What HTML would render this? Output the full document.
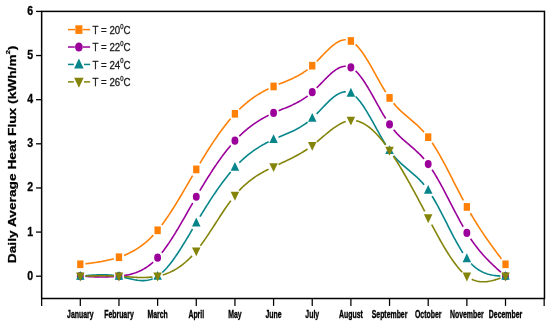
<!DOCTYPE html>
<html><head><meta charset="utf-8"><title>Daily Average Heat Flux</title>
<style>
html,body{margin:0;padding:0;background:#fff;}
svg{display:block;}
text{font-family:"Liberation Sans",Arial,sans-serif;fill:#000;}
.tk{font-size:12.9px;font-weight:bold;stroke:#000;stroke-width:0.3px;}
.xl{font-size:10.4px;font-weight:bold;stroke:#000;stroke-width:0.35px;}
.yt{font-size:13.75px;font-weight:bold;stroke:#000;stroke-width:0.3px;}
.lg{font-size:11.7px;fill:#1a1a1a;stroke:#1a1a1a;stroke-width:0.3px;}
</style></head><body>
<svg width="550" height="324" viewBox="0 0 550 324">
<rect width="550" height="324" fill="#fff"/>
<path d="M85.44 263.73 L86.60 263.60 L87.76 263.46 L88.93 263.33 L90.09 263.19 L91.25 263.04 L92.41 262.89 L93.58 262.74 L94.74 262.58 L95.90 262.42 L97.07 262.25 L98.23 262.07 L99.39 261.88 L100.55 261.69 L101.72 261.49 L102.88 261.28 L104.04 261.06 L105.20 260.83 L106.37 260.59 L107.53 260.34 L108.69 260.08 L109.85 259.81 L111.02 259.53 L112.18 259.23 L113.34 258.92 L113.92 258.76 M124.00 255.39 L125.16 254.91 L126.32 254.42 L127.49 253.90 L128.65 253.37 L129.81 252.81 L130.97 252.22 L132.14 251.61 L133.30 250.98 L134.46 250.32 L135.62 249.63 L136.79 248.91 L137.95 248.17 L139.11 247.39 L140.27 246.58 L141.44 245.74 L142.60 244.87 L143.76 243.97 L144.92 243.03 L146.09 242.06 L147.25 241.05 L148.41 240.00 L149.57 238.91 L150.74 237.79 L151.90 236.63 L153.06 235.42 L153.35 235.12 M161.78 225.04 L162.94 223.48 L164.11 221.88 L165.27 220.25 L166.43 218.58 L167.59 216.88 L168.76 215.15 L169.92 213.39 L171.08 211.61 L172.24 209.79 L173.41 207.96 L174.57 206.10 L175.73 204.22 L176.89 202.32 L178.06 200.41 L179.22 198.48 L180.38 196.53 L181.54 194.57 L182.71 192.61 L183.87 190.63 L185.03 188.64 L186.19 186.65 L187.36 184.66 L188.52 182.66 L189.68 180.66 L190.84 178.67 L192.01 176.67 L192.59 175.68 M199.95 163.23 L201.11 161.31 L202.28 159.39 L203.44 157.50 L204.60 155.61 L205.76 153.74 L206.93 151.89 L208.09 150.05 L209.25 148.23 L210.41 146.43 L211.58 144.65 L212.74 142.88 L213.90 141.14 L215.06 139.41 L216.23 137.71 L217.39 136.03 L218.55 134.37 L219.71 132.74 L220.88 131.13 L222.04 129.54 L223.20 127.98 L224.37 126.44 L225.53 124.93 L226.69 123.45 L227.85 122.00 L229.02 120.57 L230.18 119.18 L230.66 118.61 M239.28 109.33 L240.45 108.22 L241.61 107.13 L242.77 106.07 L243.93 105.04 L245.10 104.04 L246.26 103.06 L247.42 102.11 L248.59 101.19 L249.75 100.29 L250.91 99.42 L252.07 98.57 L253.24 97.75 L254.40 96.95 L255.56 96.17 L256.72 95.41 L257.89 94.67 L259.05 93.95 L260.21 93.26 L261.37 92.58 L262.54 91.92 L263.70 91.28 L264.86 90.65 L266.02 90.04 L267.19 89.45 L268.35 88.87 L268.64 88.73 M278.62 84.31 L279.78 83.84 L280.94 83.36 L282.11 82.89 L283.27 82.42 L284.43 81.95 L285.59 81.47 L286.76 80.99 L287.92 80.50 L289.08 80.00 L290.24 79.49 L291.41 78.97 L292.57 78.43 L293.73 77.88 L294.89 77.31 L296.06 76.72 L297.22 76.12 L298.38 75.49 L299.54 74.84 L300.71 74.16 L301.87 73.45 L303.03 72.72 L304.19 71.95 L305.36 71.16 L306.52 70.33 L307.58 69.53 M316.69 61.44 L317.85 60.26 L319.02 59.07 L320.18 57.86 L321.34 56.65 L322.50 55.44 L323.67 54.24 L324.83 53.04 L325.99 51.86 L327.15 50.71 L328.32 49.58 L329.48 48.49 L330.64 47.43 L331.80 46.42 L332.97 45.45 L334.13 44.55 L335.29 43.70 L336.45 42.92 L337.62 42.21 L338.78 41.58 L339.94 41.04 L341.11 40.58 L342.27 40.21 L343.43 39.95 L344.59 39.79 L345.76 39.74 M355.64 44.44 L356.80 45.59 L357.96 46.85 L359.12 48.21 L360.29 49.66 L361.45 51.20 L362.61 52.83 L363.78 54.53 L364.94 56.30 L366.10 58.12 L367.26 60.01 L368.43 61.94 L369.59 63.92 L370.75 65.93 L371.91 67.97 L373.08 70.03 L374.24 72.11 L375.40 74.20 L376.56 76.29 L377.73 78.38 L378.89 80.46 L380.05 82.52 L381.21 84.56 L382.38 86.57 L383.54 88.54 L384.70 90.47 L385.67 92.05 M393.61 103.24 L394.78 104.61 L395.94 105.93 L397.10 107.20 L398.26 108.42 L399.43 109.59 L400.59 110.73 L401.75 111.83 L402.91 112.90 L404.08 113.94 L405.24 114.97 L406.40 115.97 L407.56 116.96 L408.73 117.95 L409.89 118.92 L411.05 119.90 L412.21 120.89 L413.38 121.88 L414.54 122.89 L415.70 123.91 L416.87 124.95 L418.03 126.03 L419.19 127.13 L420.35 128.26 L421.52 129.44 L422.68 130.66 L423.84 131.93 L424.03 132.15 M432.17 142.77 L433.33 144.54 L434.50 146.36 L435.66 148.24 L436.82 150.16 L437.98 152.13 L439.15 154.14 L440.31 156.20 L441.47 158.29 L442.64 160.41 L443.80 162.56 L444.96 164.74 L446.12 166.95 L447.29 169.17 L448.45 171.42 L449.61 173.68 L450.77 175.95 L451.94 178.23 L453.10 180.52 L454.26 182.80 L455.42 185.09 L456.59 187.38 L457.75 189.65 L458.91 191.92 L460.07 194.18 L461.24 196.42 L462.40 198.64 L463.37 200.47 M470.44 213.24 L471.60 215.23 L472.76 217.18 L473.93 219.11 L475.09 221.01 L476.25 222.89 L477.41 224.74 L478.58 226.56 L479.74 228.36 L480.90 230.14 L482.07 231.89 L483.23 233.63 L484.39 235.34 L485.55 237.04 L486.72 238.72 L487.88 240.38 L489.04 242.03 L490.20 243.66 L491.37 245.28 L492.53 246.88 L493.69 248.48 L494.85 250.06 L496.02 251.64 L497.18 253.21 L498.34 254.77 L499.50 256.32 L500.67 257.87 L501.44 258.90" fill="none" stroke="#ff8005" stroke-width="1.6"/>
<path d="M85.44 276.46 L86.60 276.51 L87.76 276.56 L88.93 276.61 L90.09 276.66 L91.25 276.71 L92.41 276.75 L93.58 276.79 L94.74 276.83 L95.90 276.86 L97.07 276.89 L98.23 276.91 L99.39 276.93 L100.55 276.94 L101.72 276.95 L102.88 276.95 L104.04 276.95 L105.20 276.94 L106.37 276.92 L107.53 276.89 L108.69 276.86 L109.85 276.82 L111.02 276.77 L112.18 276.72 L113.34 276.65 L113.83 276.62 M124.09 275.56 L125.26 275.37 L126.42 275.16 L127.58 274.94 L128.74 274.69 L129.91 274.42 L131.07 274.13 L132.23 273.81 L133.40 273.46 L134.56 273.09 L135.72 272.69 L136.88 272.25 L138.05 271.78 L139.21 271.28 L140.37 270.74 L141.53 270.17 L142.70 269.56 L143.86 268.91 L145.02 268.21 L146.18 267.48 L147.35 266.70 L148.51 265.87 L149.67 265.00 L150.83 264.08 L152.00 263.11 L153.16 262.08 M161.88 252.67 L163.04 251.19 L164.20 249.66 L165.37 248.08 L166.53 246.46 L167.69 244.79 L168.85 243.09 L170.02 241.35 L171.18 239.57 L172.34 237.77 L173.50 235.93 L174.67 234.06 L175.83 232.16 L176.99 230.24 L178.15 228.30 L179.32 226.34 L180.48 224.36 L181.64 222.36 L182.80 220.35 L183.97 218.33 L185.13 216.30 L186.29 214.26 L187.45 212.22 L188.62 210.17 L189.78 208.12 L190.94 206.07 L192.10 204.03 L192.69 203.01 M199.85 190.64 L201.02 188.68 L202.18 186.74 L203.34 184.82 L204.50 182.91 L205.67 181.01 L206.83 179.14 L207.99 177.28 L209.16 175.45 L210.32 173.63 L211.48 171.83 L212.64 170.05 L213.81 168.30 L214.97 166.56 L216.13 164.85 L217.29 163.16 L218.46 161.49 L219.62 159.85 L220.78 158.23 L221.94 156.64 L223.11 155.07 L224.27 153.53 L225.43 152.02 L226.59 150.53 L227.76 149.07 L228.92 147.64 L230.08 146.24 L230.66 145.55 M239.28 136.22 L240.45 135.09 L241.61 133.99 L242.77 132.92 L243.93 131.88 L245.10 130.86 L246.26 129.87 L247.42 128.91 L248.59 127.97 L249.75 127.06 L250.91 126.17 L252.07 125.31 L253.24 124.47 L254.40 123.65 L255.56 122.85 L256.72 122.08 L257.89 121.33 L259.05 120.59 L260.21 119.88 L261.37 119.19 L262.54 118.51 L263.70 117.85 L264.86 117.22 L266.02 116.59 L267.19 115.99 L268.35 115.40 L268.64 115.25 M278.62 110.76 L279.78 110.28 L280.94 109.80 L282.11 109.33 L283.27 108.85 L284.43 108.38 L285.59 107.90 L286.76 107.42 L287.92 106.93 L289.08 106.43 L290.24 105.92 L291.41 105.40 L292.57 104.86 L293.73 104.31 L294.89 103.75 L296.06 103.16 L297.22 102.56 L298.38 101.93 L299.54 101.28 L300.71 100.61 L301.87 99.90 L303.03 99.17 L304.19 98.41 L305.36 97.62 L306.52 96.79 L307.58 96.00 M316.69 87.93 L317.85 86.75 L319.02 85.56 L320.18 84.35 L321.34 83.14 L322.50 81.93 L323.67 80.73 L324.83 79.53 L325.99 78.35 L327.15 77.20 L328.32 76.07 L329.48 74.97 L330.64 73.92 L331.80 72.91 L332.97 71.94 L334.13 71.03 L335.29 70.19 L336.45 69.41 L337.62 68.70 L338.78 68.07 L339.94 67.52 L341.11 67.06 L342.27 66.69 L343.43 66.43 L344.59 66.27 L345.76 66.22 M355.64 70.91 L356.80 72.07 L357.96 73.33 L359.12 74.69 L360.29 76.14 L361.45 77.68 L362.61 79.31 L363.78 81.01 L364.94 82.78 L366.10 84.60 L367.26 86.49 L368.43 88.42 L369.59 90.40 L370.75 92.41 L371.91 94.45 L373.08 96.51 L374.24 98.59 L375.40 100.68 L376.56 102.78 L377.73 104.86 L378.89 106.94 L380.05 109.00 L381.21 111.04 L382.38 113.05 L383.54 115.03 L384.70 116.96 L385.67 118.53 M393.61 129.71 L394.78 131.09 L395.94 132.40 L397.10 133.67 L398.26 134.89 L399.43 136.06 L400.59 137.20 L401.75 138.30 L402.91 139.38 L404.08 140.42 L405.24 141.45 L406.40 142.46 L407.56 143.46 L408.73 144.45 L409.89 145.44 L411.05 146.43 L412.21 147.43 L413.38 148.43 L414.54 149.46 L415.70 150.50 L416.87 151.56 L418.03 152.65 L419.19 153.78 L420.35 154.94 L421.52 156.15 L422.68 157.40 L423.84 158.70 L424.03 158.92 M432.08 169.71 L433.24 171.52 L434.40 173.39 L435.56 175.31 L436.73 177.28 L437.89 179.30 L439.05 181.35 L440.21 183.44 L441.38 185.57 L442.54 187.72 L443.70 189.90 L444.86 192.10 L446.03 194.32 L447.19 196.56 L448.35 198.80 L449.51 201.05 L450.68 203.31 L451.84 205.56 L453.00 207.81 L454.16 210.05 L455.33 212.28 L456.49 214.50 L457.65 216.69 L458.81 218.86 L459.98 221.01 L461.14 223.12 L462.30 225.20 L463.17 226.74 M470.63 238.81 L471.80 240.51 L472.96 242.16 L474.12 243.77 L475.28 245.33 L476.45 246.86 L477.61 248.34 L478.77 249.79 L479.93 251.20 L481.10 252.57 L482.26 253.91 L483.42 255.22 L484.58 256.50 L485.75 257.75 L486.91 258.98 L488.07 260.18 L489.23 261.35 L490.40 262.51 L491.56 263.64 L492.72 264.75 L493.88 265.85 L495.05 266.93 L496.21 267.99 L497.37 269.05 L498.53 270.09 L499.70 271.12 L500.86 272.15 L500.96 272.23" fill="none" stroke="#9b009b" stroke-width="1.6"/>
<path d="M85.44 275.72 L86.60 275.62 L87.76 275.52 L88.93 275.42 L90.09 275.33 L91.25 275.24 L92.41 275.16 L93.58 275.09 L94.74 275.02 L95.90 274.96 L97.07 274.91 L98.23 274.87 L99.39 274.83 L100.55 274.81 L101.72 274.79 L102.88 274.79 L104.04 274.80 L105.20 274.82 L106.37 274.85 L107.53 274.90 L108.69 274.96 L109.85 275.03 L111.02 275.13 L112.18 275.23 L113.34 275.35 L113.83 275.41 M124.09 277.33 L125.26 277.61 L126.42 277.89 L127.58 278.18 L128.74 278.46 L129.91 278.74 L131.07 279.01 L132.23 279.27 L133.40 279.52 L134.56 279.75 L135.72 279.95 L136.88 280.14 L138.05 280.30 L139.21 280.43 L140.37 280.52 L141.53 280.58 L142.70 280.61 L143.86 280.59 L145.02 280.53 L146.18 280.42 L147.35 280.26 L148.51 280.05 L149.67 279.78 L150.83 279.45 L152.00 279.06 L152.67 278.80 M162.27 272.50 L163.43 271.40 L164.59 270.23 L165.75 269.00 L166.92 267.70 L168.08 266.35 L169.24 264.94 L170.40 263.48 L171.57 261.97 L172.73 260.41 L173.89 258.80 L175.05 257.16 L176.22 255.47 L177.38 253.75 L178.54 251.99 L179.70 250.20 L180.87 248.38 L182.03 246.53 L183.19 244.66 L184.35 242.77 L185.52 240.86 L186.68 238.94 L187.84 237.00 L189.00 235.05 L190.17 233.10 L191.33 231.14 L192.49 229.17 L192.59 229.01 M199.95 216.68 L201.11 214.76 L202.28 212.86 L203.44 210.97 L204.60 209.10 L205.76 207.24 L206.93 205.39 L208.09 203.56 L209.25 201.74 L210.41 199.94 L211.58 198.16 L212.74 196.40 L213.90 194.65 L215.06 192.93 L216.23 191.22 L217.39 189.54 L218.55 187.88 L219.71 186.24 L220.88 184.62 L222.04 183.03 L223.20 181.47 L224.37 179.92 L225.53 178.41 L226.69 176.92 L227.85 175.46 L229.02 174.02 L230.18 172.62 L230.66 172.04 M239.28 162.69 L240.45 161.56 L241.61 160.46 L242.77 159.38 L243.93 158.34 L245.10 157.33 L246.26 156.34 L247.42 155.38 L248.59 154.44 L249.75 153.53 L250.91 152.64 L252.07 151.78 L253.24 150.94 L254.40 150.13 L255.56 149.33 L256.72 148.56 L257.89 147.81 L259.05 147.08 L260.21 146.37 L261.37 145.68 L262.54 145.00 L263.70 144.34 L264.86 143.71 L266.02 143.08 L267.19 142.48 L268.35 141.89 L268.64 141.74 M278.52 137.25 L279.68 136.77 L280.85 136.28 L282.01 135.80 L283.17 135.32 L284.33 134.83 L285.50 134.35 L286.66 133.85 L287.82 133.35 L288.98 132.84 L290.15 132.32 L291.31 131.79 L292.47 131.24 L293.63 130.68 L294.80 130.10 L295.96 129.50 L297.12 128.89 L298.28 128.25 L299.45 127.58 L300.61 126.89 L301.77 126.17 L302.93 125.43 L304.10 124.65 L305.26 123.84 L306.42 123.00 L307.58 122.12 M316.69 113.88 L317.85 112.68 L319.02 111.47 L320.18 110.24 L321.34 109.01 L322.50 107.78 L323.67 106.55 L324.83 105.33 L325.99 104.14 L327.15 102.96 L328.32 101.81 L329.48 100.70 L330.64 99.62 L331.80 98.59 L332.97 97.62 L334.13 96.69 L335.29 95.83 L336.45 95.04 L337.62 94.32 L338.78 93.68 L339.94 93.12 L341.11 92.65 L342.27 92.28 L343.43 92.01 L344.59 91.85 L345.76 91.80 M355.64 96.56 L356.80 97.73 L357.96 99.01 L359.12 100.39 L360.29 101.86 L361.45 103.43 L362.61 105.07 L363.78 106.79 L364.94 108.58 L366.10 110.43 L367.26 112.34 L368.43 114.30 L369.59 116.30 L370.75 118.33 L371.91 120.39 L373.08 122.47 L374.24 124.57 L375.40 126.68 L376.56 128.78 L377.73 130.89 L378.89 132.98 L380.05 135.05 L381.21 137.10 L382.38 139.11 L383.54 141.09 L384.70 143.02 L385.67 144.59 M393.61 155.68 L394.78 157.03 L395.94 158.33 L397.10 159.56 L398.26 160.75 L399.43 161.90 L400.59 163.01 L401.75 164.08 L402.91 165.13 L404.08 166.15 L405.24 167.15 L406.40 168.13 L407.56 169.11 L408.73 170.08 L409.89 171.06 L411.05 172.03 L412.21 173.02 L413.38 174.02 L414.54 175.04 L415.70 176.08 L416.87 177.16 L418.03 178.27 L419.19 179.41 L420.35 180.60 L421.52 181.84 L422.68 183.13 L423.84 184.48 L424.13 184.83 M432.08 196.07 L433.24 197.99 L434.40 199.98 L435.56 202.02 L436.73 204.10 L437.89 206.23 L439.05 208.40 L440.21 210.60 L441.38 212.83 L442.54 215.09 L443.70 217.36 L444.86 219.64 L446.03 221.93 L447.19 224.23 L448.35 226.52 L449.51 228.80 L450.68 231.08 L451.84 233.33 L453.00 235.56 L454.16 237.76 L455.33 239.93 L456.49 242.06 L457.65 244.15 L458.81 246.19 L459.98 248.18 L461.14 250.10 L462.30 251.97 L462.88 252.87 M471.12 263.54 L472.28 264.71 L473.44 265.81 L474.61 266.83 L475.77 267.78 L476.93 268.66 L478.09 269.47 L479.26 270.22 L480.42 270.91 L481.58 271.55 L482.74 272.12 L483.91 272.65 L485.07 273.12 L486.23 273.55 L487.39 273.94 L488.56 274.28 L489.72 274.58 L490.88 274.85 L492.04 275.08 L493.21 275.28 L494.37 275.45 L495.53 275.60 L496.69 275.73 L497.86 275.83 L499.02 275.92 L500.18 275.99 L500.38 276.00" fill="none" stroke="#06868a" stroke-width="1.6"/>
<path d="M85.44 276.06 L86.60 276.03 L87.76 276.00 L88.93 275.97 L90.09 275.94 L91.25 275.91 L92.41 275.89 L93.58 275.87 L94.74 275.85 L95.90 275.83 L97.07 275.81 L98.23 275.80 L99.39 275.79 L100.55 275.78 L101.72 275.78 L102.88 275.78 L104.04 275.78 L105.20 275.79 L106.37 275.80 L107.53 275.81 L108.69 275.83 L109.85 275.85 L111.02 275.88 L112.18 275.91 L113.34 275.95 L113.83 275.96 M124.09 276.54 L125.26 276.62 L126.42 276.71 L127.58 276.79 L128.74 276.88 L129.91 276.96 L131.07 277.04 L132.23 277.12 L133.40 277.19 L134.56 277.26 L135.72 277.32 L136.88 277.38 L138.05 277.43 L139.21 277.46 L140.37 277.49 L141.53 277.51 L142.70 277.52 L143.86 277.51 L145.02 277.50 L146.18 277.46 L147.35 277.41 L148.51 277.35 L149.67 277.27 L150.83 277.17 L152.00 277.06 L152.48 277.00 M162.75 274.94 L163.91 274.58 L165.07 274.20 L166.24 273.78 L167.40 273.34 L168.56 272.87 L169.72 272.37 L170.89 271.83 L172.05 271.27 L173.21 270.67 L174.38 270.04 L175.54 269.38 L176.70 268.68 L177.86 267.94 L179.03 267.17 L180.19 266.36 L181.35 265.52 L182.51 264.64 L183.68 263.72 L184.84 262.75 L186.00 261.75 L187.16 260.71 L188.33 259.63 L189.49 258.50 L190.65 257.33 L191.81 256.12 L192.01 255.91 M200.34 245.84 L201.50 244.26 L202.66 242.65 L203.83 241.01 L204.99 239.34 L206.15 237.64 L207.31 235.92 L208.48 234.18 L209.64 232.42 L210.80 230.65 L211.96 228.86 L213.13 227.07 L214.29 225.27 L215.45 223.47 L216.61 221.67 L217.78 219.87 L218.94 218.07 L220.10 216.28 L221.26 214.51 L222.43 212.75 L223.59 211.00 L224.75 209.28 L225.92 207.57 L227.08 205.89 L228.24 204.24 L229.40 202.62 L230.57 201.04 L230.86 200.65 M239.19 190.58 L240.35 189.35 L241.51 188.17 L242.68 187.02 L243.84 185.92 L245.00 184.85 L246.16 183.82 L247.33 182.82 L248.49 181.85 L249.65 180.92 L250.81 180.02 L251.98 179.15 L253.14 178.31 L254.30 177.49 L255.46 176.70 L256.63 175.94 L257.79 175.19 L258.95 174.47 L260.11 173.77 L261.28 173.09 L262.44 172.43 L263.60 171.79 L264.76 171.16 L265.93 170.54 L267.09 169.94 L268.25 169.35 L268.64 169.16 M278.52 164.45 L279.68 163.91 L280.85 163.37 L282.01 162.83 L283.17 162.29 L284.33 161.74 L285.50 161.20 L286.66 160.64 L287.82 160.08 L288.98 159.52 L290.15 158.95 L291.31 158.37 L292.47 157.78 L293.63 157.18 L294.80 156.58 L295.96 155.96 L297.12 155.32 L298.28 154.68 L299.45 154.02 L300.61 153.34 L301.77 152.65 L302.93 151.95 L304.10 151.22 L305.26 150.48 L306.42 149.71 L307.49 149.00 M316.89 141.87 L318.05 140.90 L319.21 139.92 L320.37 138.94 L321.54 137.95 L322.70 136.96 L323.86 135.97 L325.02 134.99 L326.19 134.01 L327.35 133.04 L328.51 132.09 L329.67 131.16 L330.84 130.24 L332.00 129.35 L333.16 128.48 L334.32 127.63 L335.49 126.82 L336.65 126.05 L337.81 125.31 L338.97 124.61 L340.14 123.95 L341.30 123.34 L342.46 122.78 L343.62 122.27 L344.79 121.81 L345.76 121.47 M356.02 120.73 L357.19 120.99 L358.35 121.31 L359.51 121.70 L360.67 122.15 L361.84 122.66 L363.00 123.24 L364.16 123.88 L365.33 124.57 L366.49 125.32 L367.65 126.13 L368.81 127.00 L369.98 127.92 L371.14 128.89 L372.30 129.92 L373.46 130.99 L374.63 132.12 L375.79 133.29 L376.95 134.51 L378.11 135.78 L379.28 137.09 L380.44 138.44 L381.60 139.84 L382.76 141.28 L383.93 142.76 L385.09 144.28 L385.57 144.92 M393.42 156.18 L394.58 157.97 L395.75 159.79 L396.91 161.63 L398.07 163.51 L399.23 165.40 L400.40 167.33 L401.56 169.27 L402.72 171.24 L403.88 173.23 L405.05 175.24 L406.21 177.27 L407.37 179.32 L408.53 181.38 L409.70 183.46 L410.86 185.56 L412.02 187.67 L413.18 189.79 L414.35 191.93 L415.51 194.08 L416.67 196.23 L417.83 198.40 L419.00 200.57 L420.16 202.76 L421.32 204.94 L422.48 207.13 L423.65 209.33 L424.71 211.35 M431.69 224.54 L432.85 226.72 L434.01 228.89 L435.18 231.05 L436.34 233.19 L437.50 235.32 L438.66 237.43 L439.83 239.51 L440.99 241.57 L442.15 243.61 L443.31 245.61 L444.48 247.58 L445.64 249.52 L446.80 251.42 L447.96 253.29 L449.13 255.11 L450.29 256.89 L451.45 258.63 L452.61 260.31 L453.78 261.95 L454.94 263.54 L456.10 265.07 L457.26 266.54 L458.43 267.95 L459.59 269.30 L460.75 270.59 L461.91 271.81 L462.30 272.20 M471.70 279.18 L472.86 279.71 L474.02 280.18 L475.19 280.58 L476.35 280.92 L477.51 281.20 L478.67 281.42 L479.84 281.59 L481.00 281.70 L482.16 281.77 L483.32 281.78 L484.49 281.76 L485.65 281.69 L486.81 281.58 L487.97 281.43 L489.14 281.24 L490.30 281.03 L491.46 280.78 L492.62 280.50 L493.79 280.20 L494.95 279.87 L496.11 279.52 L497.28 279.15 L498.44 278.77 L499.60 278.37 L500.47 278.06" fill="none" stroke="#84840a" stroke-width="1.6"/>
<rect x="77.16" y="260.43" width="6.30" height="7.70" fill="#ff8005"/>
<rect x="115.81" y="253.37" width="6.30" height="7.70" fill="#ff8005"/>
<rect x="154.47" y="226.45" width="6.30" height="7.70" fill="#ff8005"/>
<rect x="193.12" y="165.56" width="6.30" height="7.70" fill="#ff8005"/>
<rect x="231.78" y="109.95" width="6.30" height="7.70" fill="#ff8005"/>
<rect x="270.43" y="82.59" width="6.30" height="7.70" fill="#ff8005"/>
<rect x="309.09" y="61.85" width="6.30" height="7.70" fill="#ff8005"/>
<rect x="347.74" y="37.14" width="6.30" height="7.70" fill="#ff8005"/>
<rect x="386.39" y="94.06" width="6.30" height="7.70" fill="#ff8005"/>
<rect x="425.05" y="133.34" width="6.30" height="7.70" fill="#ff8005"/>
<rect x="463.71" y="203.07" width="6.30" height="7.70" fill="#ff8005"/>
<rect x="502.36" y="260.43" width="6.30" height="7.70" fill="#ff8005"/>
<ellipse cx="80.31" cy="276.20" rx="3.45" ry="4.10" fill="#9b009b"/>
<ellipse cx="118.96" cy="276.20" rx="3.45" ry="4.10" fill="#9b009b"/>
<ellipse cx="157.62" cy="257.67" rx="3.45" ry="4.10" fill="#9b009b"/>
<ellipse cx="196.27" cy="196.77" rx="3.45" ry="4.10" fill="#9b009b"/>
<ellipse cx="234.93" cy="140.72" rx="3.45" ry="4.10" fill="#9b009b"/>
<ellipse cx="273.58" cy="112.92" rx="3.45" ry="4.10" fill="#9b009b"/>
<ellipse cx="312.24" cy="92.18" rx="3.45" ry="4.10" fill="#9b009b"/>
<ellipse cx="350.89" cy="67.47" rx="3.45" ry="4.10" fill="#9b009b"/>
<ellipse cx="389.54" cy="124.39" rx="3.45" ry="4.10" fill="#9b009b"/>
<ellipse cx="428.20" cy="164.11" rx="3.45" ry="4.10" fill="#9b009b"/>
<ellipse cx="466.86" cy="232.95" rx="3.45" ry="4.10" fill="#9b009b"/>
<ellipse cx="505.51" cy="276.20" rx="3.45" ry="4.10" fill="#9b009b"/>
<path d="M80.31 271.00 L84.56 279.80 L76.06 279.80 Z" fill="#06868a"/>
<path d="M118.96 271.00 L123.21 279.80 L114.71 279.80 Z" fill="#06868a"/>
<path d="M157.62 271.00 L161.87 279.80 L153.37 279.80 Z" fill="#06868a"/>
<path d="M196.27 217.60 L200.52 226.40 L192.02 226.40 Z" fill="#06868a"/>
<path d="M234.93 162.00 L239.18 170.80 L230.68 170.80 Z" fill="#06868a"/>
<path d="M273.58 134.20 L277.83 143.00 L269.33 143.00 Z" fill="#06868a"/>
<path d="M312.24 113.01 L316.49 121.81 L307.99 121.81 Z" fill="#06868a"/>
<path d="M350.89 87.86 L355.14 96.66 L346.64 96.66 Z" fill="#06868a"/>
<path d="M389.54 145.23 L393.79 154.03 L385.29 154.03 Z" fill="#06868a"/>
<path d="M428.20 184.95 L432.45 193.75 L423.95 193.75 Z" fill="#06868a"/>
<path d="M466.86 253.35 L471.11 262.15 L462.61 262.15 Z" fill="#06868a"/>
<path d="M505.51 271.00 L509.76 279.80 L501.26 279.80 Z" fill="#06868a"/>
<path d="M80.31 281.40 L84.56 272.60 L76.06 272.60 Z" fill="#84840a"/>
<path d="M118.96 281.40 L123.21 272.60 L114.71 272.60 Z" fill="#84840a"/>
<path d="M157.62 281.40 L161.87 272.60 L153.37 272.60 Z" fill="#84840a"/>
<path d="M196.27 256.25 L200.52 247.45 L192.02 247.45 Z" fill="#84840a"/>
<path d="M234.93 200.64 L239.18 191.84 L230.68 191.84 Z" fill="#84840a"/>
<path d="M273.58 171.96 L277.83 163.16 L269.33 163.16 Z" fill="#84840a"/>
<path d="M312.24 150.78 L316.49 141.98 L307.99 141.98 Z" fill="#84840a"/>
<path d="M350.89 125.62 L355.14 116.82 L346.64 116.82 Z" fill="#84840a"/>
<path d="M389.54 155.63 L393.79 146.83 L385.29 146.83 Z" fill="#84840a"/>
<path d="M428.20 223.15 L432.45 214.35 L423.95 214.35 Z" fill="#84840a"/>
<path d="M466.86 281.40 L471.11 272.60 L462.61 272.60 Z" fill="#84840a"/>
<path d="M505.51 281.40 L509.76 272.60 L501.26 272.60 Z" fill="#84840a"/>
<rect x="41.65" y="11.4" width="502.81" height="287.10" fill="none" stroke="#000" stroke-width="1.5"/>
<line x1="36.05" y1="276.20" x2="41.65" y2="276.20" stroke="#000" stroke-width="1.3"/>
<text transform="translate(33.1 279.70) scale(0.82 1)" text-anchor="end" class="tk">0</text>
<line x1="36.05" y1="232.07" x2="41.65" y2="232.07" stroke="#000" stroke-width="1.3"/>
<text transform="translate(33.1 235.57) scale(0.82 1)" text-anchor="end" class="tk">1</text>
<line x1="36.05" y1="187.94" x2="41.65" y2="187.94" stroke="#000" stroke-width="1.3"/>
<text transform="translate(33.1 191.44) scale(0.82 1)" text-anchor="end" class="tk">2</text>
<line x1="36.05" y1="143.81" x2="41.65" y2="143.81" stroke="#000" stroke-width="1.3"/>
<text transform="translate(33.1 147.31) scale(0.82 1)" text-anchor="end" class="tk">3</text>
<line x1="36.05" y1="99.68" x2="41.65" y2="99.68" stroke="#000" stroke-width="1.3"/>
<text transform="translate(33.1 103.18) scale(0.82 1)" text-anchor="end" class="tk">4</text>
<line x1="36.05" y1="55.55" x2="41.65" y2="55.55" stroke="#000" stroke-width="1.3"/>
<text transform="translate(33.1 59.05) scale(0.82 1)" text-anchor="end" class="tk">5</text>
<line x1="36.05" y1="11.42" x2="41.65" y2="11.42" stroke="#000" stroke-width="1.3"/>
<text transform="translate(33.1 14.92) scale(0.82 1)" text-anchor="end" class="tk">6</text>
<line x1="41.65" y1="298.5" x2="41.65" y2="305.9" stroke="#000" stroke-width="1.25"/>
<line x1="80.31" y1="298.5" x2="80.31" y2="305.9" stroke="#000" stroke-width="1.25"/>
<line x1="118.96" y1="298.5" x2="118.96" y2="305.9" stroke="#000" stroke-width="1.25"/>
<line x1="157.62" y1="298.5" x2="157.62" y2="305.9" stroke="#000" stroke-width="1.25"/>
<line x1="196.27" y1="298.5" x2="196.27" y2="305.9" stroke="#000" stroke-width="1.25"/>
<line x1="234.93" y1="298.5" x2="234.93" y2="305.9" stroke="#000" stroke-width="1.25"/>
<line x1="273.58" y1="298.5" x2="273.58" y2="305.9" stroke="#000" stroke-width="1.25"/>
<line x1="312.24" y1="298.5" x2="312.24" y2="305.9" stroke="#000" stroke-width="1.25"/>
<line x1="350.89" y1="298.5" x2="350.89" y2="305.9" stroke="#000" stroke-width="1.25"/>
<line x1="389.54" y1="298.5" x2="389.54" y2="305.9" stroke="#000" stroke-width="1.25"/>
<line x1="428.20" y1="298.5" x2="428.20" y2="305.9" stroke="#000" stroke-width="1.25"/>
<line x1="466.86" y1="298.5" x2="466.86" y2="305.9" stroke="#000" stroke-width="1.25"/>
<line x1="505.51" y1="298.5" x2="505.51" y2="305.9" stroke="#000" stroke-width="1.25"/>
<line x1="544.16" y1="298.5" x2="544.16" y2="305.9" stroke="#000" stroke-width="1.25"/>
<text transform="translate(80.31 317.6) scale(0.665 1)" text-anchor="middle" class="xl">January</text>
<text transform="translate(118.96 317.6) scale(0.665 1)" text-anchor="middle" class="xl">February</text>
<text transform="translate(157.62 317.6) scale(0.665 1)" text-anchor="middle" class="xl">March</text>
<text transform="translate(196.27 317.6) scale(0.665 1)" text-anchor="middle" class="xl">April</text>
<text transform="translate(234.93 317.6) scale(0.665 1)" text-anchor="middle" class="xl">May</text>
<text transform="translate(273.58 317.6) scale(0.665 1)" text-anchor="middle" class="xl">June</text>
<text transform="translate(312.24 317.6) scale(0.665 1)" text-anchor="middle" class="xl">July</text>
<text transform="translate(350.89 317.6) scale(0.665 1)" text-anchor="middle" class="xl">August</text>
<text transform="translate(389.54 317.6) scale(0.665 1)" text-anchor="middle" class="xl">September</text>
<text transform="translate(428.20 317.6) scale(0.665 1)" text-anchor="middle" class="xl">October</text>
<text transform="translate(466.86 317.6) scale(0.665 1)" text-anchor="middle" class="xl">November</text>
<text transform="translate(505.51 317.6) scale(0.665 1)" text-anchor="middle" class="xl">December</text>
<text transform="translate(16.4 154.4) rotate(-90) scale(1 0.79)" text-anchor="middle" class="yt">Daily Average Heat Flux (kWh/m<tspan dy="-8" font-size="7.5">2</tspan><tspan dy="8">)</tspan></text>
<line x1="68" y1="29.6" x2="90.1" y2="29.6" stroke="#ff8005" stroke-width="1.5"/>
<rect x="75.02" y="27.6" width="7.76" height="4" fill="#fff"/>
<rect x="75.37" y="25.29" width="7.06" height="8.62" fill="#ff8005"/>
<text transform="translate(92.6 34.05) scale(0.83 1)" class="lg">T = 20<tspan dy="-5.4" font-size="7">0</tspan><tspan dy="5.4">C</tspan></text>
<line x1="68" y1="47.02" x2="90.1" y2="47.02" stroke="#9b009b" stroke-width="1.5"/>
<rect x="74.80" y="45.02" width="8.20" height="4" fill="#fff"/>
<ellipse cx="78.90" cy="47.02" rx="3.86" ry="4.59" fill="#9b009b"/>
<text transform="translate(92.6 51.47) scale(0.83 1)" class="lg">T = 22<tspan dy="-5.4" font-size="7">0</tspan><tspan dy="5.4">C</tspan></text>
<line x1="68" y1="64.44" x2="90.1" y2="64.44" stroke="#06868a" stroke-width="1.5"/>
<rect x="73.79" y="62.44" width="10.22" height="4" fill="#fff"/>
<path d="M78.90 58.62 L83.66 68.47 L74.14 68.47 Z" fill="#06868a"/>
<text transform="translate(92.6 68.89) scale(0.83 1)" class="lg">T = 24<tspan dy="-5.4" font-size="7">0</tspan><tspan dy="5.4">C</tspan></text>
<line x1="68" y1="81.86000000000001" x2="90.1" y2="81.86000000000001" stroke="#84840a" stroke-width="1.5"/>
<rect x="73.79" y="79.86000000000001" width="10.22" height="4" fill="#fff"/>
<path d="M78.90 87.68 L83.66 77.83 L74.14 77.83 Z" fill="#84840a"/>
<text transform="translate(92.6 86.31) scale(0.83 1)" class="lg">T = 26<tspan dy="-5.4" font-size="7">0</tspan><tspan dy="5.4">C</tspan></text>
</svg>
</body></html>
